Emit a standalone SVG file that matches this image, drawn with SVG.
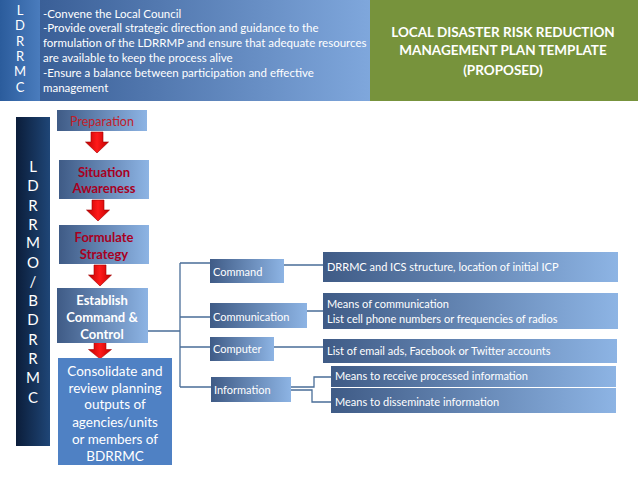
<svg xmlns="http://www.w3.org/2000/svg" width="638" height="479" viewBox="0 0 638 479">
<defs>
<linearGradient id="gHead" x1="0" y1="0" x2="1" y2="0"><stop offset="0" stop-color="#3a5f97"/><stop offset="1" stop-color="#7fa7dc"/></linearGradient>
<linearGradient id="gStripTop" x1="0" y1="0" x2="1" y2="0"><stop offset="0" stop-color="#2b5c9c"/><stop offset="1" stop-color="#4a7cbd"/></linearGradient>
<linearGradient id="gStrip" x1="0" y1="0" x2="1" y2="0"><stop offset="0" stop-color="#0b1d3a"/><stop offset="1" stop-color="#1f4677"/></linearGradient>
<linearGradient id="gBox" x1="0" y1="0" x2="1" y2="0"><stop offset="0" stop-color="#3f5b86"/><stop offset="1" stop-color="#8db4e4"/></linearGradient>
<linearGradient id="gArrow" x1="0" y1="0" x2="1" y2="0"><stop offset="0" stop-color="#c00000"/><stop offset="0.5" stop-color="#ff1a1a"/><stop offset="1" stop-color="#c00000"/></linearGradient>
<path id="arrow" d="M-6,0 H6 V10 H11.5 L0,21 L-11.5,10 H-6 Z"/>
</defs>
<style>
text{font-family:Lato,"Open Sans","Liberation Sans",sans-serif}
.hd{fill:#ffffff;font-size:11.5px}
.ttl{fill:#ffffff;font-size:13.5px;font-weight:bold;text-anchor:middle}
.let{fill:#ffffff;font-size:13px;text-anchor:middle}
.vlet{fill:#ffffff;font-size:15px;text-anchor:middle}
.box{fill:url(#gBox)}
.step{fill:#a8001f;font-size:13px;font-weight:bold;text-anchor:middle}
.stepw{fill:#ffffff;font-size:13px;font-weight:bold;text-anchor:middle}
.lbl{fill:#ffffff;font-size:11px}
.cons{fill:#ffffff;font-size:13.5px;text-anchor:middle}
.con{fill:none;stroke:#4a6e98;stroke-width:1.3}
.arr{fill:url(#gArrow);stroke:#a00000;stroke-width:0.6}
</style>

<g id="header">
<rect x="40" y="0" width="330" height="101" fill="url(#gHead)"/>
<rect x="0" y="0" width="40" height="101" fill="url(#gStripTop)"/>
<text class="let" x="20" y="15">L</text>
<text class="let" x="20" y="30">D</text>
<text class="let" x="20" y="46">R</text>
<text class="let" x="20" y="61">R</text>
<text class="let" x="20" y="76">M</text>
<text class="let" x="20" y="92">C</text>
<text class="hd" x="43" y="18">-Convene the Local Council</text>
<text class="hd" x="43" y="32">-Provide overall strategic direction and guidance to the</text>
<text class="hd" x="43" y="47">formulation of the LDRRMP and ensure that adequate resources</text>
<text class="hd" x="43" y="62">are available to keep the process alive</text>
<text class="hd" x="43" y="77">-Ensure a balance between participation and effective</text>
<text class="hd" x="43" y="92">management</text>
</g>

<g id="title">
<rect x="370" y="0" width="268" height="101" fill="#77933c"/>
<text class="ttl" x="503" y="37">LOCAL DISASTER RISK REDUCTION</text>
<text class="ttl" x="503" y="55">MANAGEMENT PLAN TEMPLATE</text>
<text class="ttl" x="503" y="75">(PROPOSED)</text>
</g>

<g id="ldrrmo">
<rect x="16" y="117" width="34" height="329" fill="url(#gStrip)"/>
<text class="vlet" x="33" y="172">L</text>
<text class="vlet" x="33" y="191">D</text>
<text class="vlet" x="33" y="211">R</text>
<text class="vlet" x="33" y="230">R</text>
<text class="vlet" x="33" y="248">M</text>
<text class="vlet" x="33" y="268">O</text>
<text class="vlet" x="33" y="287">/</text>
<text class="vlet" x="33" y="306">B</text>
<text class="vlet" x="33" y="325">D</text>
<text class="vlet" x="33" y="345">R</text>
<text class="vlet" x="33" y="364">R</text>
<text class="vlet" x="33" y="383">M</text>
<text class="vlet" x="33" y="403">C</text>
</g>

<g id="connectors">
<use href="#arrow" class="arr" x="97" y="132"/>
<use href="#arrow" class="arr" x="98" y="200"/>
<use href="#arrow" class="arr" x="100" y="265"/>
<use href="#arrow" class="arr" x="100" y="341" transform="translate(100 341) scale(1 0.85) translate(-100 -341)"/>
<path class="con" d="M148,331 H180 M180,263 V387 M180,263 H210 M180,317 H210 M180,347 H210 M180,387 H211"/>
<path class="con" d="M284,265 H323 M307,311 H323 M274,347 H323"/>
<path class="con" d="M291,387 H314 V377 H331 M291,390 H312 V402 H331"/>
</g>

<g id="preparation">
<rect class="box" x="57" y="110" width="90" height="21"/>
<text x="102" y="126" fill="#c0202a" font-size="12.5" text-anchor="middle">Preparation</text>
</g>
<g id="situation">
<rect class="box" x="59" y="160" width="90" height="39"/>
<text class="step" x="104" y="177">Situation</text>
<text class="step" x="104" y="193">Awareness</text>
</g>
<g id="formulate">
<rect class="box" x="59" y="225" width="90" height="39"/>
<text class="step" x="104" y="242">Formulate</text>
<text class="step" x="104" y="259">Strategy</text>
</g>
<g id="establish">
<rect class="box" x="57" y="288" width="91" height="55"/>
<text class="stepw" x="102" y="305">Establish</text>
<text class="stepw" x="102" y="322">Command &amp;</text>
<text class="stepw" x="102" y="339">Control</text>
</g>
<g id="consolidate">
<rect x="58" y="358" width="114" height="107" fill="#4f81c4"/>
<text class="cons" x="115" y="376">Consolidate  and</text>
<text class="cons" x="115" y="393">review planning</text>
<text class="cons" x="115" y="409">outputs of</text>
<text class="cons" x="115" y="427">agencies/units</text>
<text class="cons" x="115" y="444">or members of</text>
<text class="cons" x="115" y="461">BDRRMC</text>
</g>

<g id="command">
<rect class="box" x="210" y="259" width="74" height="24"/>
<text class="lbl" x="213" y="276">Command</text>
</g>
<g id="communication">
<rect class="box" x="210" y="303" width="97" height="25"/>
<text class="lbl" x="213" y="321">Communication</text>
</g>
<g id="computer">
<rect class="box" x="210" y="337" width="64" height="24"/>
<text class="lbl" x="213" y="353">Computer</text>
</g>
<g id="information">
<rect class="box" x="211" y="377" width="80" height="25"/>
<text class="lbl" x="214" y="394">Information</text>
</g>

<g id="drrmc">
<rect class="box" x="323" y="252" width="295" height="30"/>
<text class="lbl" x="327" y="271">DRRMC and ICS structure, location of initial ICP</text>
</g>
<g id="means-comm">
<rect class="box" x="323" y="293" width="295" height="36"/>
<text class="lbl" x="327" y="308">Means of communication</text>
<text class="lbl" x="327" y="323">List cell phone numbers or frequencies of radios</text>
</g>
<g id="email">
<rect class="box" x="323" y="339" width="294" height="24"/>
<text class="lbl" x="327" y="355">List of email ads, Facebook or Twitter accounts</text>
</g>
<g id="receive">
<rect class="box" x="331" y="366" width="285" height="21"/>
<text class="lbl" x="335" y="380">Means to receive processed information</text>
</g>
<g id="disseminate">
<rect class="box" x="331" y="388" width="285" height="25"/>
<text class="lbl" x="335" y="406">Means to disseminate information</text>
</g>
</svg>
